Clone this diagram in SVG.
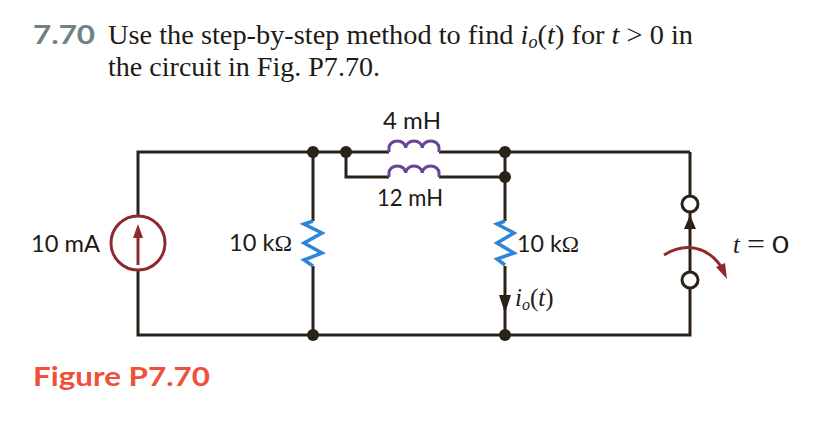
<svg xmlns="http://www.w3.org/2000/svg" width="818" height="432" viewBox="0 0 818 432">
<style>
.w{fill:none;stroke:#2a2118;stroke-width:3}
.d{fill:#2a2118}
.t{font-family:"Liberation Serif",serif;font-size:28px;fill:#1e1a16}
.l{font-family:Lato,"Open Sans",sans-serif;font-size:23px;fill:#1e1a16}
.i{font-family:"Liberation Serif",serif;font-style:italic;font-size:25px;fill:#1e1a16}
.h{font-family:Lato,"Open Sans",sans-serif;font-weight:700;font-size:26px}
.o{font-family:"Liberation Serif",serif}
.r{fill:none;stroke:#2f86d8;stroke-width:3.500}
.c{fill:none;stroke:#6a4499;stroke-width:3}
.s{fill:#fff;stroke:#2a2118;stroke-width:3}
.m{fill:none;stroke:#8f2a2c;stroke-width:3}
.mf{fill:#8f2a2c}
</style>
<rect width="818" height="432" fill="#fff"/>
<text x="33" y="44" class="h" style="fill:#6f8285" textLength="62" lengthAdjust="spacingAndGlyphs">7.70</text>
<text x="108" y="44" class="t" textLength="585" lengthAdjust="spacingAndGlyphs">Use the step-by-step method to find <tspan font-style="italic">i</tspan><tspan font-style="italic" font-size="18" dy="4">o</tspan><tspan dy="-4">(</tspan><tspan font-style="italic">t</tspan>) for <tspan font-style="italic">t</tspan> &gt; 0 in</text>
<text x="108" y="76" class="t" textLength="272" lengthAdjust="spacingAndGlyphs">the circuit in Fig. P7.70.</text>
<g id="connectors">
<path class="w" d="M389 152H138V216M138 270V335H690V288M690 272V196M690 152V196M439 152H690M346 152V177H389M439 177H505M313 152V221M313 266V335M505 152V221M505 266V335"/>
<path class="d" d="M499 295H511L505 313Z"/>
<path class="d" d="M690 215L696 229H684Z"/>
</g>
<g id="n1"><circle class="d" cx="313" cy="152" r="6"/></g>
<g id="n2"><circle class="d" cx="346" cy="152" r="6"/></g>
<g id="n3"><circle class="d" cx="505" cy="152" r="6"/></g>
<g id="n4"><circle class="d" cx="505" cy="177" r="6"/></g>
<g id="n5"><circle class="d" cx="313" cy="335" r="6"/></g>
<g id="n6"><circle class="d" cx="505" cy="335" r="6"/></g>
<g id="source">
<circle cx="138" cy="243" r="27" fill="#fff" stroke="#8f2a2c" stroke-width="3"/>
<path class="m" d="M138 265V236"/>
<path class="mf" d="M138 224L143 238H133Z"/>
<text x="31" y="252" class="l" textLength="69" lengthAdjust="spacingAndGlyphs">10 mA</text>
</g>
<g id="r1">
<path class="r" d="M313 221L304 224L322 233L304 243L322 253L304 260L313 266"/>
<text x="229" y="251" class="l" textLength="63" lengthAdjust="spacingAndGlyphs">10 k<tspan class="o">Ω</tspan></text>
</g>
<g id="r2">
<path class="r" d="M505 221L497 224L514 233L497 243L514 253L497 259L505 265"/>
<text x="517" y="252" class="l" textLength="62" lengthAdjust="spacingAndGlyphs">10 k<tspan class="o">Ω</tspan></text>
<text x="515" y="306" class="i">i<tspan font-size="16" dy="4">o</tspan><tspan dy="-4" font-style="normal">(</tspan>t<tspan font-style="normal">)</tspan></text>
</g>
<g id="l1">
<path class="c" d="M389 152V148A8.300 7 0 0 1 405.700 148A8.300 7 0 0 1 422.300 148A8.300 7 0 0 1 439 148V152"/>
<text x="383" y="129" class="l" textLength="58" lengthAdjust="spacingAndGlyphs">4 mH</text>
</g>
<g id="l2">
<path class="c" d="M389 177V173A8.300 7 0 0 1 405.700 173A8.300 7 0 0 1 422.300 173A8.300 7 0 0 1 439 173V177"/>
<text x="377" y="206" class="l" textLength="66" lengthAdjust="spacingAndGlyphs">12 mH</text>
</g>
<g id="switch">
<circle class="s" cx="690" cy="204" r="8"/>
<circle class="s" cx="690" cy="280" r="8"/>
<path class="m" d="M664 255C685 242 708 246 722 268"/>
<path class="mf" d="M727 279L716 267L725 263Z"/>
<text x="733" y="253" class="i">t</text>
<text x="747" y="253" class="t" textLength="18" lengthAdjust="spacingAndGlyphs">=</text>
<text x="772" y="253" class="l" textLength="17" lengthAdjust="spacingAndGlyphs">0</text>
</g>
<text x="33" y="386" class="h" style="fill:#f0503a" textLength="177" lengthAdjust="spacingAndGlyphs">Figure P7.70</text>
</svg>
